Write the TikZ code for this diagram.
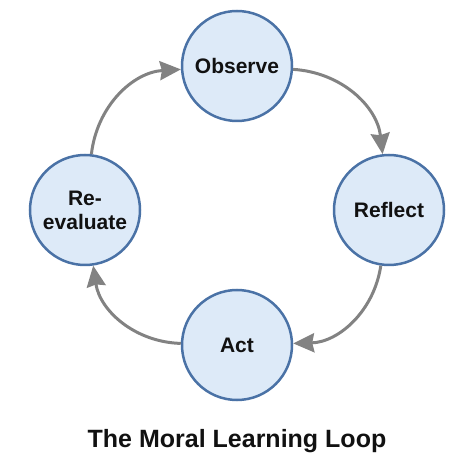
\documentclass[tikz,border=0pt]{standalone}
\usepackage{fontspec}
\setmainfont{Liberation Sans}
\usetikzlibrary{arrows.meta}
\definecolor{cfill}{HTML}{DDEAF8}
\definecolor{cedge}{HTML}{4A72A6}
\definecolor{cgrey}{HTML}{828282}
\definecolor{cink}{HTML}{111111}
\tikzset{
  every picture/.style={x=1pt, y=1pt},
  stage/.style={circle, draw=cedge, fill=cfill, line width=2.5pt, minimum size=110pt, inner sep=0pt,
    align=center, text=cink, font=\bfseries\fontsize{21}{24}\selectfont},
  arrow/.style={-{Stealth[length=21pt, width=19pt, inset=2pt]}, draw=cgrey, line width=3pt},
  title/.style={font=\bfseries\fontsize{25}{30}\selectfont, text=cink},
}

\begin{document}
\begin{tikzpicture}
  \useasboundingbox (0,0) rectangle (474,474);

  % ---- stages
  \node[stage] (obs) at (237,408) {Observe};
  \node[stage] (ref) at (389,264) {Reflect};
  \node[stage] (act) at (237,129) {Act};
  \node[stage] (rev) at (85,264)  {Re-\\evaluate};

  % ---- loop
  \draw[arrow] (obs) to[bend left=40] (ref);
  \draw[arrow] (ref) to[bend left=40] (act);
  \draw[arrow] (act) to[bend left=40] (rev);
  \draw[arrow] (rev) to[bend left=40] (obs);

  \node[title, anchor=base] (ttl) at (237,27) {The Moral Learning Loop};
\end{tikzpicture}
\end{document}
